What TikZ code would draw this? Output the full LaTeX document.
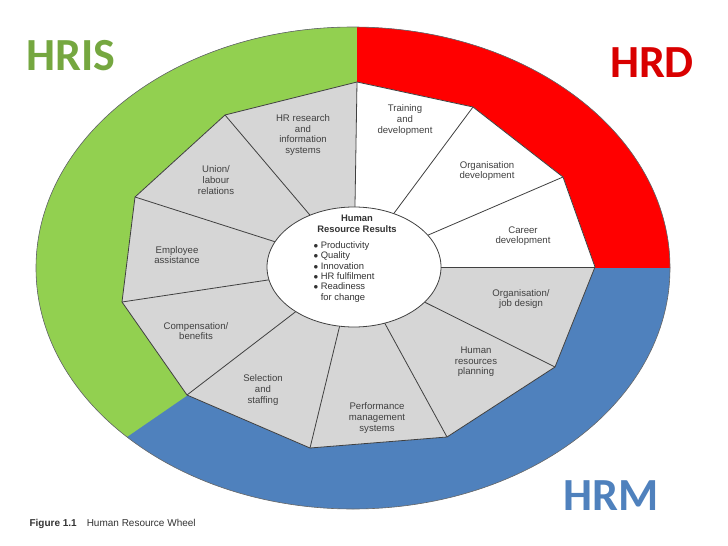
\documentclass[tikz,border=0pt]{standalone}
\usepackage{fontspec}
\usetikzlibrary{shapes.geometric}
\setmainfont{Liberation Sans}
\newfontfamily\bigf{Carlito}
\begin{document}
\begin{tikzpicture}[x=1pt,y=-1pt,
  lbl/.style={align=center,font=\fontsize{9.6}{10.6}\selectfont,text=black!75},
  spoke/.style={draw=black!75,line width=0.8pt},
  big/.style={font=\bigf\bfseries\fontsize{46}{46}\selectfont,draw=none}]
\useasboundingbox (0,0) rectangle (728,546);
\definecolor{gr}{RGB}{146,208,80}
\definecolor{rd}{RGB}{255,0,0}
\definecolor{bl}{RGB}{79,129,189}
\definecolor{wh}{RGB}{214,214,214}
% outer ring
\begin{scope}
\clip (353,268) ellipse [x radius=317, y radius=241];
\fill[bl] (0,0) rectangle (728,546);
\fill[gr] (357,268) -- (357,-10) -- (-10,-10) -- (-10,540) -- (60,483) -- (185,397) -- cycle;
\fill[rd] (357,268) -- (357,-10) -- (740,-10) -- (740,268) -- cycle;
\end{scope}
\draw[black!60,line width=0.6pt] (353,268) ellipse [x radius=317, y radius=241];
% inner wheel
\coordinate (v0) at (357,82);
\coordinate (v1) at (473,107);
\coordinate (v2) at (563,177);
\coordinate (v3) at (595,267);
\coordinate (v4) at (555,367);
\coordinate (v5) at (447,437);
\coordinate (v6) at (310,448);
\coordinate (v7) at (187,395);
\coordinate (v8) at (122,302);
\coordinate (v9) at (135,197);
\coordinate (v10) at (225,115);
\coordinate (c) at (354,267);
\fill[wh] (v0)--(v1)--(v2)--(v3)--(v4)--(v5)--(v6)--(v7)--(v8)--(v9)--(v10)--cycle;
\fill[white] (c)--(v0)--(v1)--(v2)--(v3)--cycle;
\foreach \i in {0,...,10} \draw[spoke] (c) -- (v\i);
\draw[spoke] (v0)--(v1)--(v2)--(v3)--(v4)--(v5)--(v6)--(v7)--(v8)--(v9)--(v10)--cycle;
\node[ellipse,draw=black!75,line width=0.8pt,fill=white,minimum width=174pt,minimum height=120pt,inner sep=0pt] (hub) at (c) {};
\node[align=center,font=\fontsize{9.4}{10.4}\selectfont,text=black!80] (hubh) at (357,224) {\textbf{Human}\\\textbf{Resource Results}};
\node[align=left,font=\fontsize{9.4}{10.4}\selectfont,text=black!80,anchor=north west] (hubt) at (310,238) {$\bullet$ Productivity\\ $\bullet$ Quality\\ $\bullet$ Innovation\\ $\bullet$ HR fulfilment\\ $\bullet$ Readiness\\ \phantom{$\bullet$} for change};
% labels
\node[lbl] (t1) at (405,120) {Training\\and\\development};
\node[lbl] (t2) at (487,171) {Organisation\\development};
\node[lbl] (t3) at (523,236) {Career\\development};
\node[lbl] (t4) at (521,299) {Organisation/\\job design};
\node[lbl] (t5) at (476,362) {Human\\resources\\planning};
\node[lbl] (t6) at (377,418) {Performance\\management\\systems};
\node[lbl] (t7) at (263,390) {Selection\\and\\staffing};
\node[lbl] (t8) at (196,331) {Compensation/\\benefits};
\node[lbl] (t9) at (177,255) {Employee\\assistance};
\node[lbl] (t10) at (216,180) {Union/\\labour\\relations};
\node[lbl] (t11) at (303,135) {HR research\\and\\information\\systems};
% titles
\node[big,text=gr!80!black] (hris) at (71,56) {HRIS};
\node[big,text=rd!85!black] (hrd) at (652,63) {HRD};
\node[big,text=bl] (hrm) at (611,496) {HRM};
\node[anchor=west,font=\fontsize{10}{12}\selectfont,text=black!80] (cap) at (26,524) {\textbf{Figure 1.1}\quad Human Resource Wheel};
\end{tikzpicture}
\end{document}
